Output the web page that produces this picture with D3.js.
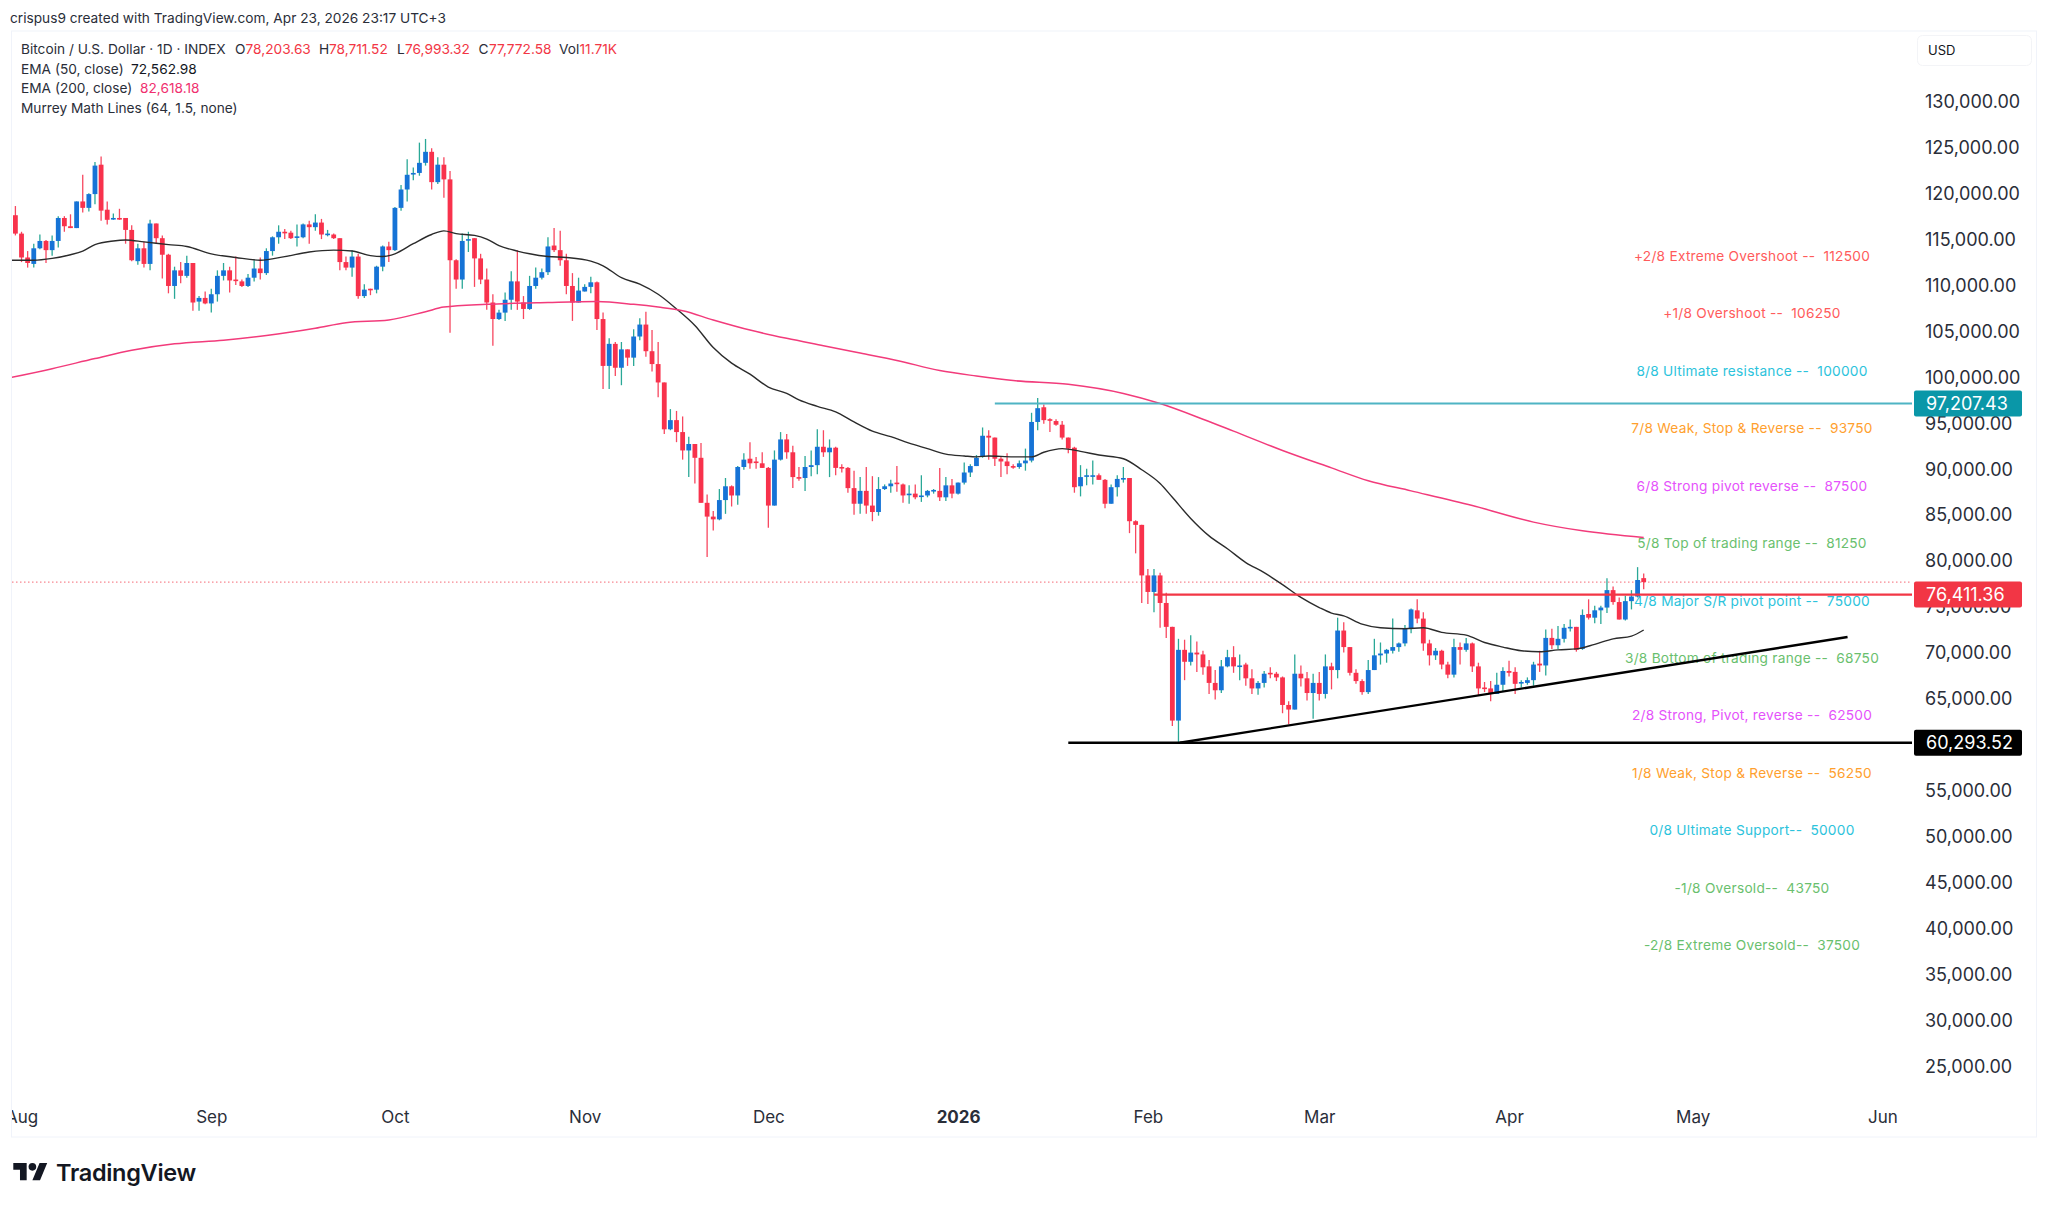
<!DOCTYPE html>
<html><head><meta charset="utf-8">
<style>
html,body{margin:0;padding:0;background:#fff}
svg{display:block}
text{font-family:Inter,"Noto Sans",sans-serif}
</style>
<script src="https://cdn.jsdelivr.net/npm/d3@7/dist/d3.min.js"></script>
</head><body><svg id="c" width="2048" height="1207"></svg>
<script>
// daily candles in thousand USD, from 31 Jul 2025 to 23 Apr 2026, grouped by month
const opens=[117.7,
115.7,113.1,112.4,114.1,114.9,113.9,114.9,117.4,116.5,116.3,119.2,118.5,120.0,123.2,118.3,117.3,117.4,117.4,116.1,112.7,114.1,112.4,116.8,115.2,113.4,110.0,111.7,111.1,112.5,108.3,108.7,
108.1,109.1,111.1,111.7,110.7,110.5,110.0,110.9,111.9,111.4,113.8,115.3,115.9,115.8,115.3,115.3,116.7,116.4,116.9,115.6,115.6,115.2,112.6,112.0,113.2,108.9,109.7,109.6,112.1,114.3,
113.9,118.5,120.5,122.2,122.3,123.4,124.6,121.3,123.2,121.6,112.8,110.7,115.0,115.2,113.0,110.7,108.2,106.4,107.1,108.5,110.5,108.2,107.5,110.0,110.9,111.5,114.4,113.9,112.8,110.0,108.2,
109.4,109.9,110.4,106.4,101.3,103.7,101.1,103.1,102.2,104.5,105.8,102.9,101.5,99.5,94.4,95.4,94.1,92.1,92.8,91.3,86.4,84.9,84.6,86.7,88.2,87.2,90.3,91.2,90.9,90.7,
90.2,86.1,91.1,93.3,91.9,89.2,89.1,90.3,90.5,92.5,91.9,92.4,90.3,90.2,88.0,86.3,87.7,86.1,85.4,87.9,88.2,88.6,88.4,87.3,87.4,87.1,87.2,87.7,87.7,87.0,88.3,
87.4,88.6,89.7,90.4,91.4,93.7,93.5,91.2,90.9,90.4,90.3,90.7,91.0,95.2,96.8,95.5,95.3,94.9,93.5,92.4,88.2,89.3,89.4,89.4,88.9,86.3,88.1,89.0,89.1,84.4,84.0,
78.5,76.7,78.5,75.5,72.9,62.7,70.4,69.1,70.1,69.9,68.6,66.8,66.0,68.6,69.6,68.6,68.8,67.3,66.2,66.8,67.9,67.8,67.4,64.4,63.9,67.8,67.3,65.7,
66.8,65.6,68.6,68.2,72.5,70.7,67.9,67.0,65.8,68.2,69.8,70.0,70.3,70.7,71.1,72.7,74.7,73.8,71.1,69.8,70.3,68.8,67.7,70.7,70.4,71.1,68.6,66.3,66.2,65.6,66.6,
68.1,68.0,66.8,66.8,67.1,68.9,68.7,71.7,70.9,71.6,72.8,72.9,70.5,74.3,73.9,74.7,75.0,76.9,75.6,73.7,75.7,76.2,78.204];
const highs=[118.7,
115.9,113.8,114.6,115.6,115.0,115.5,117.6,117.6,117.8,119.2,122.1,120.1,123.5,124.1,119.2,117.9,118.4,117.4,116.6,114.6,114.8,117.2,116.8,115.5,113.5,112.1,112.6,113.3,112.5,108.9,109.4,
109.7,111.7,112.5,112.1,113.2,110.7,111.3,112.8,113.1,114.1,115.4,116.6,116.2,116.0,116.7,116.8,117.1,117.8,117.3,116.1,115.7,115.2,113.2,113.9,113.5,110.2,109.7,112.2,114.4,114.8,
118.6,121.0,123.8,122.9,125.6,126.0,125.0,124.0,124.0,122.5,112.9,115.7,115.9,115.2,113.5,111.9,109.1,107.4,109.3,111.6,113.9,108.9,111.1,112.0,111.9,115.3,116.3,116.0,113.5,111.4,110.9,
110.2,111.0,110.5,107.1,104.3,103.9,103.9,103.1,105.3,106.5,107.2,105.2,103.9,99.5,96.6,96.4,95.8,93.6,92.8,92.9,87.3,85.5,87.9,89.1,88.3,90.4,91.8,93.0,91.4,91.9,
90.3,92.1,94.1,93.9,92.6,90.3,91.5,92.1,94.4,94.3,93.3,92.5,90.6,90.3,89.9,89.2,90.3,89.3,89.2,88.4,88.9,90.4,88.5,88.3,88.4,89.4,87.8,87.9,90.2,89.2,89.0,
88.6,90.8,90.6,91.6,94.6,94.3,93.5,91.5,91.8,90.6,91.0,92.3,96.2,97.8,97.1,95.6,95.5,95.3,93.5,92.5,90.5,90.1,91.0,89.6,89.0,88.4,89.4,90.3,89.1,84.5,84.0,
79.2,79.2,78.8,76.6,72.9,71.6,71.5,72.0,71.3,70.3,69.3,68.2,69.3,70.4,70.8,69.9,69.0,68.3,67.0,68.1,68.5,68.0,67.5,64.8,69.9,68.7,68.0,67.8,
68.0,69.9,69.0,73.9,73.4,70.7,68.3,67.2,69.3,71.6,71.2,70.5,73.8,71.2,73.1,74.9,75.9,74.5,71.5,70.6,70.4,69.1,71.6,71.2,71.7,71.2,69.0,66.9,67.0,67.9,68.5,
69.2,68.5,67.1,67.4,69.1,70.3,72.6,72.7,73.0,73.2,73.7,72.9,74.8,75.9,75.2,75.2,78.2,77.3,76.1,76.3,76.9,79.4,78.712];
const lows=[115.5,
112.6,112.0,112.0,114.0,112.5,113.3,114.2,115.9,116.3,116.3,118.0,118.1,118.9,117.1,116.7,117.2,117.2,114.6,112.7,112.3,112.0,111.7,114.6,110.8,109.2,108.6,110.3,110.9,107.3,107.3,108.0,
107.1,108.3,110.6,109.3,110.1,109.9,109.9,110.5,110.7,111.2,113.3,114.6,115.1,115.1,114.3,115.2,114.6,116.0,115.1,115.4,115.1,111.7,111.7,111.0,108.6,108.7,109.0,109.2,111.6,112.6,
113.8,118.2,119.2,121.5,122.0,123.1,120.5,121.1,119.6,104.9,109.7,109.7,113.7,109.9,110.2,107.4,103.5,106.3,106.2,107.4,107.4,106.4,107.4,109.7,110.7,111.2,113.7,112.2,109.1,106.2,108.2,
109.4,109.2,105.2,98.8,98.8,100.2,99.2,101.3,101.3,104.1,102.3,100.7,97.9,93.9,94.3,93.0,91.1,89.2,88.5,86.4,80.5,83.4,84.5,85.2,86.0,86.2,90.0,90.1,90.1,90.2,
83.7,86.1,91.0,91.2,88.0,88.8,87.7,89.3,89.5,91.4,89.2,89.4,89.7,87.5,85.1,85.2,85.2,84.4,85.0,87.8,87.5,87.6,86.4,86.3,86.8,86.5,87.0,87.4,86.6,86.6,86.9,
87.3,88.4,89.2,90.4,91.3,91.1,90.4,89.2,89.5,90.1,90.1,89.9,90.8,94.3,95.0,94.1,94.8,93.3,91.8,87.5,87.1,88.3,88.4,88.9,85.8,86.3,87.1,88.6,83.1,80.9,75.5,
75.4,74.5,72.8,71.7,62.1,60.3,67.1,68.7,68.0,67.7,65.6,65.0,65.7,68.5,67.9,67.1,66.5,65.6,65.5,66.3,67.3,67.0,63.5,62.3,63.9,66.4,64.9,62.9,
64.9,65.1,66.1,67.3,70.1,67.6,66.7,65.5,65.6,68.2,68.8,69.0,70.0,70.2,70.8,72.2,73.3,70.3,68.7,69.3,68.3,67.3,67.4,68.8,70.2,68.0,65.4,65.8,64.8,65.6,65.8,
67.5,65.6,66.3,66.6,66.5,68.0,67.6,70.5,70.5,71.2,72.4,70.2,70.4,73.7,73.3,73.2,74.4,75.3,73.7,73.6,74.8,76.1,76.993];
const closes=[115.7,
113.1,112.5,114.1,114.9,113.9,114.9,117.4,116.5,116.3,119.2,118.5,120.0,123.1,118.2,117.2,117.4,117.3,116.1,112.8,114.1,112.4,116.8,115.2,113.4,110.0,111.7,111.1,112.5,108.2,108.7,108.1,
109.1,111.1,111.7,110.6,110.6,110.0,110.9,111.9,111.4,113.8,115.3,115.9,115.8,115.2,115.4,116.7,116.4,116.9,115.6,115.7,115.2,112.6,112.0,113.2,108.9,109.6,109.6,112.1,114.3,113.9,
118.5,120.5,122.1,122.3,123.4,124.6,121.3,123.2,121.6,112.8,110.7,114.9,115.1,113.0,110.7,108.2,106.4,107.1,108.5,110.5,108.3,107.5,110.0,110.9,111.5,114.3,113.9,112.8,110.0,108.2,109.5,
109.9,110.4,106.4,101.3,103.7,101.1,103.1,102.2,104.5,105.8,102.9,101.5,99.5,94.4,95.4,94.1,92.1,92.8,91.3,86.4,84.9,84.6,86.7,88.2,87.2,90.3,91.1,90.7,90.8,90.2,
86.1,91.1,93.3,91.9,89.2,89.1,90.3,90.5,92.5,91.9,92.4,90.2,90.2,88.0,86.3,87.7,86.1,85.4,87.9,88.2,88.5,88.5,87.2,87.4,87.0,87.2,87.7,87.8,87.0,88.3,87.4,
88.6,89.7,90.4,91.3,93.7,93.5,91.2,90.9,90.4,90.3,90.7,91.0,95.2,96.7,95.4,95.4,94.9,93.5,92.3,88.1,89.2,89.4,89.4,88.9,86.3,88.1,89.0,89.1,84.4,84.0,78.5,
76.7,78.5,75.5,72.9,62.7,70.4,69.1,70.1,69.9,68.5,66.8,66.0,68.6,69.6,68.6,68.7,67.3,66.2,66.8,67.8,67.8,67.4,64.4,63.9,67.8,67.3,65.7,66.8,
65.6,68.6,68.2,72.5,70.7,67.9,67.0,65.8,68.2,69.8,70.0,70.4,70.7,71.1,72.7,74.8,73.8,71.1,69.8,70.3,68.8,67.7,70.7,70.4,71.1,68.6,66.2,66.2,65.6,66.6,68.1,
67.9,66.7,66.9,67.1,68.8,68.7,71.7,70.9,71.6,72.8,72.9,70.4,74.2,73.9,74.7,75.0,76.9,75.6,73.7,75.7,76.2,78.0,77.773];

// EMA readings: day offset from 31 Jul 2025 and value in thousand USD
const ema50Days=[-1,3,6,9,11,13,16,18,21,25,28,32,36,40,44,48,52,55,58,60,62,65,68,70,72,75,77,79,82,84,87,90,94,96,99,102,105,108,111,114,117,120,123,126,128,131,134,137,140,143,146,149,152,155,157,159,163,166,168,171,174,177,181,184,187,189,192,195,198,201,204,207,210,213,215,217,220,223,227,230,233,237,240,243,246,249,252,255,258,261,264,266];
const ema50Values=[112.8,112.8,113.0,113.4,113.8,114.5,114.9,115.0,114.8,114.5,114.3,113.5,113.1,112.8,113.2,113.7,113.9,113.8,113.3,113.2,113.5,114.6,115.6,116.0,115.7,115.5,115.1,114.4,113.8,113.5,113.2,113.1,112.7,112.2,110.9,110.2,109.1,107.5,105.7,103.3,101.6,100.4,99.0,98.3,97.6,96.9,96.3,95.2,94.2,93.6,92.9,92.3,91.7,91.5,91.4,91.5,91.4,91.4,91.9,92.3,92.0,91.6,91.2,90.0,88.5,87.0,84.7,82.8,81.4,79.9,78.8,77.5,76.1,75.0,74.4,74.1,73.2,72.8,72.7,72.8,72.3,72.0,71.2,70.7,70.3,70.2,70.4,70.5,71.0,71.6,71.9,72.56];
const ema200Days=[-1,6,13,19,26,34,41,49,54,61,67,70,77,87,95,101,105,109,114,120,126,132,138,144,151,157,163,172,181,187,194,199,207,215,221,228,238,248,256,266];
const ema200Values=[100.0,101.0,102.1,103.0,103.7,104.1,104.6,105.4,106.0,106.3,107.2,107.7,108.0,108.2,108.3,108.0,107.7,107.3,106.3,105.2,104.3,103.5,102.7,101.9,100.8,100.2,99.7,99.3,98.3,97.2,95.5,94.2,92.1,90.2,88.8,87.7,86.1,84.3,83.35,82.62];

const priceTicks=[130000,125000,120000,115000,110000,105000,100000,95000,90000,85000,80000,75000,70000,65000,55000,50000,45000,40000,35000,30000,25000];
const monthTicks=["2025-08-01","2025-09-01","2025-10-01","2025-11-01","2025-12-01","2026-01-01","2026-02-01","2026-03-01","2026-04-01","2026-05-01","2026-06-01"];
const monthLabels=["Aug","Sep","Oct","Nov","Dec","2026","Feb","Mar","Apr","May","Jun"];

const murreyLabels=["+2/8 Extreme Overshoot --  112500","+1/8 Overshoot --  106250","8/8 Ultimate resistance --  100000","7/8 Weak, Stop & Reverse --  93750","6/8 Strong pivot reverse --  87500","5/8 Top of trading range --  81250","4/8 Major S/R pivot point --  75000","3/8 Bottom of trading range --  68750","2/8 Strong, Pivot, reverse --  62500","1/8 Weak, Stop & Reverse --  56250","0/8 Ultimate Support--  50000","-1/8 Oversold--  43750","-2/8 Extreme Oversold--  37500"];
const murreyLevels=[112500,106250,100000,93750,87500,81250,75000,68750,62500,56250,50000,43750,37500];
const murreyColors=["#ff5b5b","#ff5b5b","#2cc3dc","#ffa02e","#e552fb","#6abf6e","#2cc3dc","#6abf6e","#e552fb","#ffa02e","#2cc3dc","#6abf6e","#6abf6e"];

const tagValues=[97207.43,76411.36,60293.52];
const tagColors=["#0a97a8","#f23645","#000000"];
const tagLineColors=["#4fb4c4","#f23645","#000000"];
const tagStartDays=[160,186,172];
const trendDays=[190.2,299.3];
const trendPrices=[60293.52,71800];
const lastClose=77772.58;

const svg=d3.select("#c");
const start=new Date(Date.UTC(2025,6,31));
const day=i=>new Date(start.getTime()+i*864e5);
const x=d3.scaleUtc().domain([start,day(266)]).range([15.4,1643.7]);
const y=d3.scaleLinear().domain([25000,130000]).range([1067,102.2]);
const plotR=1912, plotL=12;

svg.append("rect").attr("x",11.5).attr("y",31).attr("width",2025).attr("height",1106)
  .attr("fill","#fff").attr("stroke","#f0f3fa");
const defs=svg.append("defs");
defs.append("clipPath").attr("id","plot").append("rect").attr("x",plotL).attr("y",31).attr("width",plotR-plotL).attr("height",1060);
defs.append("clipPath").attr("id","xa").append("rect").attr("x",plotL).attr("y",1090).attr("width",2020).attr("height",47);

// header
svg.append("text").attr("x",10).attr("y",23).attr("font-size",13.7).attr("fill","#2a2e39").text("crispus9 created with TradingView.com, Apr 23, 2026 23:17 UTC+3");
const lg=svg.append("g").attr("font-size",13.7).attr("fill","#2a2e39");
const red="#f23645";
[["Bitcoin / U.S. Dollar · 1D · INDEX",21,54,"#2a2e39"],["O",235,54,"#2a2e39"],["78,203.63",245.5,54,red],["H",319,54,"#2a2e39"],["78,711.52",329,54,red],["L",397,54,"#2a2e39"],["76,993.32",405,54,red],["C",478.5,54,"#2a2e39"],["77,772.58",489,54,red],["Vol",559,54,"#2a2e39"],["11.71K",579.5,54,red],
 ["EMA (50, close)",21,73.5,"#2a2e39"],["72,562.98",131,73.5,"#131722"],
 ["EMA (200, close)",21,93,"#2a2e39"],["82,618.18",140,93,"#f0306f"],
 ["Murrey Math Lines (64, 1.5, none)",21,112.5,"#2a2e39"]]
 .forEach(d=>lg.append("text").attr("x",d[1]).attr("y",d[2]).attr("fill",d[3]).text(d[0]));

// murrey labels
svg.append("g").selectAll("text").data(murreyLabels).join("text")
 .attr("x",1752).attr("y",(d,i)=>y(murreyLevels[i])-2).attr("text-anchor","middle")
 .attr("font-size",13.7).attr("letter-spacing",0.25).style("white-space","pre").attr("fill",(d,i)=>murreyColors[i]).text(d=>d);

// axes
const ya=d3.axisRight(y).tickValues(priceTicks).tickSize(0).tickPadding(0).tickFormat(d3.format(",.2f"));
const yg=svg.append("g").attr("transform","translate(1925,-0.5)").call(ya);
yg.select(".domain").remove();
yg.selectAll("text").attr("font-size",18).attr("fill","#2a2e39").style("font-family","Inter");
const xa=d3.axisBottom(x).tickValues(monthTicks.map(d=>new Date(d+"T00:00:00Z"))).tickSize(0).tickPadding(0).tickFormat((d,i)=>monthLabels[i]);
const xg=svg.append("g").attr("clip-path","url(#xa)").append("g").attr("transform","translate(0,1111)").call(xa);
xg.select(".domain").remove();
xg.selectAll("text").attr("font-size",17).attr("fill","#2a2e39").style("font-family","Inter").attr("font-weight",(d,i)=>monthLabels[i]==="2026"?700:400);

// chart
const plot=svg.append("g").attr("clip-path","url(#plot)");
const up=i=>closes[i]>=opens[i];
const idx=d3.range(opens.length);
plot.append("line").attr("x1",plotL).attr("x2",plotR).attr("y1",y(lastClose)).attr("y2",y(lastClose))
  .attr("stroke","#f23645").attr("stroke-opacity",.75).attr("stroke-width",1).attr("stroke-dasharray","1.5 2.5");
plot.append("g").selectAll("line").data(idx).join("line")
  .attr("x1",i=>x(day(i))).attr("x2",i=>x(day(i))).attr("y1",i=>y(highs[i]*1000)).attr("y2",i=>y(lows[i]*1000))
  .attr("stroke",i=>up(i)?"#2aa897":"#f7475f").attr("stroke-width",1.3);
plot.append("g").selectAll("rect").data(idx).join("rect")
  .attr("x",i=>x(day(i))-2.4).attr("width",4.8)
  .attr("y",i=>y(Math.max(opens[i],closes[i])*1000))
  .attr("height",i=>Math.max(1.6,Math.abs(y(opens[i]*1000)-y(closes[i]*1000))))
  .attr("fill",i=>up(i)?"#1673d6":"#f8324c");
const ln=(days,vals,col,w)=>plot.append("path").attr("fill","none").attr("stroke",col).attr("stroke-width",w)
  .attr("d",d3.line().x((d,i)=>x(day(d))).y((d,i)=>y(vals[i]*1000)).curve(d3.curveMonotoneX)(days));
ln(ema50Days,ema50Values,"#2b2b2b",1.4);
ln(ema200Days,ema200Values,"#f23b7b",1.5);

// drawings
const dr=svg.append("g");
dr.selectAll("line.h").data(tagValues).join("line").attr("class","h")
 .attr("x1",(d,i)=>x(day(tagStartDays[i]))).attr("x2",plotR).attr("y1",d=>y(d)).attr("y2",d=>y(d))
 .attr("stroke",(d,i)=>tagLineColors[i]).attr("stroke-width",(d,i)=>i===0?1.8:2.4);
dr.append("line").attr("x1",x(day(trendDays[0]))).attr("x2",x(day(trendDays[1]))).attr("y1",y(trendPrices[0])).attr("y2",y(trendPrices[1]))
 .attr("stroke","#000").attr("stroke-width",2.4);

// tags
const tg=svg.append("g").selectAll("g").data(tagValues).join("g").attr("transform",d=>`translate(1914,${y(d)})`);
tg.append("rect").attr("y",-13).attr("width",108).attr("height",26).attr("rx",2).attr("fill",(d,i)=>tagColors[i]);
tg.append("text").attr("x",12).attr("dy","0.36em").attr("font-size",18).attr("fill","#fff").text(d=>d3.format(",.2f")(d));

// USD box
svg.append("rect").attr("x",1917.5).attr("y",35.5).attr("width",114).attr("height",30).attr("rx",5).attr("fill","#fff").attr("stroke","#f3f4f7");
svg.append("text").attr("x",1928).attr("y",55).attr("font-size",13).attr("fill","#131722").text("USD");

// logo
const logo=svg.append("g").attr("transform","translate(13.3,1159.2) scale(0.955)").attr("fill","#131722");
logo.append("path").attr("d","M14 22H7V11H0V4h14v18zM28 22h-8l7.5-18h8L28 22z");
logo.append("circle").attr("cx",20).attr("cy",8).attr("r",4);
svg.append("text").attr("x",56).attr("y",1181).attr("font-size",23.5).attr("font-weight",600).attr("letter-spacing",-0.3).attr("fill","#131722").text("TradingView");
</script></body></html>
